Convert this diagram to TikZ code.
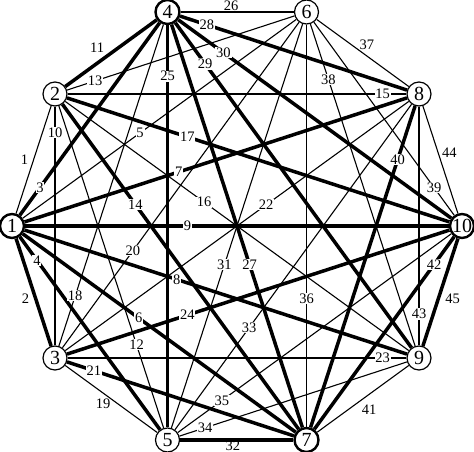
\documentclass[tikz,border=0pt]{standalone}
\usepackage{fontspec}
\setmainfont{Liberation Serif}
\begin{document}
\begin{tikzpicture}[x=1pt,y=-1pt,
  thinedge/.style={line width=1.1pt},
  thickedge/.style={line width=3.5pt},
  vtx/.style={circle,draw,fill=white,minimum size=24pt,inner sep=0pt,line width=1.2pt,font=\fontsize{20}{20}\selectfont},
  vtxb/.style={vtx,line width=2.4pt},
  lbl/.style={fill=white,inner sep=0.8pt,font=\fontsize{14.5}{14.5}\selectfont},
  olbl/.style={inner sep=0pt,font=\fontsize{14.5}{14.5}\selectfont}]
\useasboundingbox (0,0) rectangle (474,452);
% vertices
\node[vtxb] (n1) at (12,226) {1};
\node[vtx]  (n2) at (55,94) {2};
\node[vtx]  (n3) at (55,358) {3};
\node[vtxb] (n4) at (167.5,12) {4};
\node[vtx]  (n5) at (167.5,440) {5};
\node[vtx]  (n6) at (306.5,12) {6};
\node[vtxb] (n7) at (306.5,440) {7};
\node[vtx]  (n8) at (419,94) {8};
\node[vtx]  (n9) at (419,358) {9};
\node[vtxb] (n10) at (462,226) {10};
% edges
\draw[thinedge] (n1)--(n2);
\draw[thickedge] (n1)--(n3);
\draw[thickedge] (n1)--(n4);
\draw[thickedge] (n1)--(n5);
\draw[thinedge] (n1)--(n6);
\draw[thickedge] (n1)--(n7);
\draw[thickedge] (n1)--(n8);
\draw[thickedge] (n1)--(n9);
\draw[thickedge] (n1)--(n10);
\draw[thinedge] (n2)--(n3);
\draw[thickedge] (n2)--(n4);
\draw[thinedge] (n2)--(n5);
\draw[thinedge] (n2)--(n6);
\draw[thickedge] (n2)--(n7);
\draw[thinedge] (n2)--(n8);
\draw[thinedge] (n2)--(n9);
\draw[thickedge] (n2)--(n10);
\draw[thinedge] (n3)--(n4);
\draw[thinedge] (n3)--(n5);
\draw[thinedge] (n3)--(n6);
\draw[thickedge] (n3)--(n7);
\draw[thinedge] (n3)--(n8);
\draw[thinedge] (n3)--(n9);
\draw[thickedge] (n3)--(n10);
\draw[thickedge] (n4)--(n5);
\draw[thinedge] (n4)--(n6);
\draw[thickedge] (n4)--(n7);
\draw[thickedge] (n4)--(n8);
\draw[thickedge] (n4)--(n9);
\draw[thickedge] (n4)--(n10);
\draw[thinedge] (n5)--(n6);
\draw[thickedge] (n5)--(n7);
\draw[thinedge] (n5)--(n8);
\draw[thinedge] (n5)--(n9);
\draw[thinedge] (n5)--(n10);
\draw[thinedge] (n6)--(n7);
\draw[thinedge] (n6)--(n8);
\draw[thinedge] (n6)--(n9);
\draw[thinedge] (n6)--(n10);
\draw[thickedge] (n7)--(n8);
\draw[thinedge] (n7)--(n9);
\draw[thickedge] (n7)--(n10);
\draw[thinedge] (n8)--(n9);
\draw[thinedge] (n8)--(n10);
\draw[thickedge] (n9)--(n10);
% edge labels
\path (n1.center)--(n2.center) node[olbl,pos=0.48,xshift=-8.2,yshift=2.5] {1};
\path (n1.center)--(n3.center) node[olbl,pos=0.53,xshift=-9.3,yshift=-2.9] {2};
\path (n1.center)--(n4.center) node[lbl,pos=0.18] {3};
\path (n1.center)--(n5.center) node[lbl,pos=0.16] {4};
\path (n1.center)--(n6.center) node[lbl,pos=0.435] {5};
\path (n1.center)--(n7.center) node[lbl,pos=0.43] {6};
\path (n1.center)--(n8.center) node[lbl,pos=0.41] {7};
\path (n1.center)--(n9.center) node[lbl,pos=0.405] {8};
\path (n1.center)--(n10.center) node[lbl,pos=0.39] {9};
\path (n2.center)--(n3.center) node[lbl,pos=0.145] {10};
\path (n2.center)--(n4.center) node[olbl,pos=0.44,xshift=-7.4,yshift=10.1] {11};
\path (n2.center)--(n5.center) node[lbl,pos=0.725] {12};
\path (n2.center)--(n6.center) node[lbl,pos=0.16] {13};
\path (n2.center)--(n7.center) node[lbl,pos=0.32] {14};
\path (n2.center)--(n8.center) node[lbl,pos=0.9] {15};
\path (n2.center)--(n9.center) node[lbl,pos=0.41] {16};
\path (n2.center)--(n10.center) node[lbl,pos=0.325] {17};
\path (n3.center)--(n4.center) node[lbl,pos=0.18] {18};
\path (n3.center)--(n5.center) node[olbl,pos=0.473,xshift=-5.2,yshift=-7.2] {19};
\path (n3.center)--(n6.center) node[lbl,pos=0.31] {20};
\path (n3.center)--(n7.center) node[lbl,pos=0.155] {21};
\path (n3.center)--(n8.center) node[lbl,pos=0.58] {22};
\path (n3.center)--(n9.center) node[lbl,pos=0.9] {23};
\path (n3.center)--(n10.center) node[lbl,pos=0.325] {24};
\path (n4.center)--(n5.center) node[lbl,pos=0.15] {25};
\path (n4.center)--(n6.center) node[olbl,pos=0.457,yshift=6.5] {26};
\path (n4.center)--(n7.center) node[lbl,pos=0.59] {27};
\path (n4.center)--(n8.center) node[lbl,pos=0.157] {28};
\path (n4.center)--(n9.center) node[lbl,pos=0.15] {29};
\path (n4.center)--(n10.center) node[lbl,pos=0.19] {30};
\path (n5.center)--(n6.center) node[lbl,pos=0.41] {31};
\path (n5.center)--(n7.center) node[olbl,pos=0.47,yshift=-5.5] {32};
\path (n5.center)--(n8.center) node[lbl,pos=0.325] {33};
\path (n5.center)--(n9.center) node[lbl,pos=0.15] {34};
\path (n5.center)--(n10.center) node[lbl,pos=0.185] {35};
\path (n6.center)--(n7.center) node[lbl,pos=0.67] {36};
\path (n6.center)--(n8.center) node[olbl,pos=0.49,xshift=5.2,yshift=7.2] {37};
\path (n6.center)--(n9.center) node[lbl,pos=0.195] {38};
\path (n6.center)--(n10.center) node[lbl,pos=0.82] {39};
\path (n7.center)--(n8.center) node[lbl,pos=0.81] {40};
\path (n7.center)--(n9.center) node[olbl,pos=0.49,xshift=7.4,yshift=-10.2] {41};
\path (n7.center)--(n10.center) node[lbl,pos=0.82] {42};
\path (n8.center)--(n9.center) node[lbl,pos=0.833] {43};
\path (n8.center)--(n10.center) node[olbl,pos=0.471,xshift=10.2,yshift=3.2] {44};
\path (n9.center)--(n10.center) node[olbl,pos=0.478,xshift=13,yshift=-4.1] {45};
\end{tikzpicture}
\end{document}
